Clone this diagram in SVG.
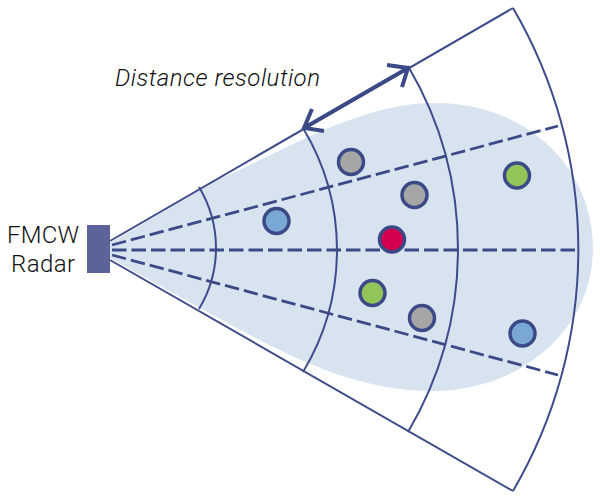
<svg xmlns="http://www.w3.org/2000/svg" width="600" height="500" viewBox="0 0 600 500">
<style>
.sector{fill:none;stroke:#3f4c8c;stroke-width:2}
.beam{fill:none;stroke:#3b4a87;stroke-width:2.8;stroke-dasharray:14.5 5}
.arrow{fill:none;stroke:#3b4a87;stroke-width:4}
.target{stroke:#3b4a87;stroke-width:3.5}
.label{font-family:"Roboto","Liberation Sans",sans-serif;font-weight:300;fill:#111111}
</style>
<rect width="600" height="500" fill="#ffffff"/>
<path id="coverage" fill="#d8e3f0" d="M110 243 L215 181 C290 148 360 103 435 103 C530 103 593 170 593 248 C593 330 520 391 433 391 C350 391 280 352 200 308 L110 258 Z"/>
<g id="connectors">
<path class="sector" d="M110 241 L513 8 M110 260 L513 491"/>
<path class="sector" d="M199 187 A118 118 0 0 1 199 309"/>
<path class="sector" d="M303 128 A236 236 0 0 1 303 372"/>
<path class="sector" d="M408 66 A360 360 0 0 1 408 432"/>
<path class="sector" d="M513 8 A479 479 0 0 1 513 491"/>
<path class="beam" d="M112 245 L558 126"/>
<path class="beam" d="M112 250 L576 250"/>
<path class="beam" d="M112 255 L558 375"/>
<path class="arrow" d="M304 128 L408 68 M387 65 L408 68 L402 87 M312 109 L304 128 L324 131"/>
</g>
<g id="radar">
<rect x="87" y="225" width="23" height="48" fill="#5c6399"/>
<text class="label" x="7" y="243" font-size="24" letter-spacing="0.2">FMCW</text>
<text class="label" x="11" y="272" font-size="24" letter-spacing="0.4">Radar</text>
</g>
<text id="distance-label" class="label" x="115" y="86" font-size="24" font-style="italic" letter-spacing="0.5">Distance resolution</text>
<g id="target-1"><circle class="target" cx="351" cy="162" r="12.5" fill="#a6a6a6"/></g>
<g id="target-2"><circle class="target" cx="414.500" cy="195" r="12.500" fill="#a6a6a6"/></g>
<g id="target-3"><circle class="target" cx="517" cy="175.500" r="12.500" fill="#93c45a"/></g>
<g id="target-4"><circle class="target" cx="276.500" cy="221" r="12.500" fill="#7aa8d4"/></g>
<g id="target-5"><circle class="target" cx="392" cy="239.500" r="12.500" fill="#d4004f"/></g>
<g id="target-6"><circle class="target" cx="372.500" cy="293" r="12.500" fill="#93c45a"/></g>
<g id="target-7"><circle class="target" cx="422" cy="318" r="12.500" fill="#a6a6a6"/></g>
<g id="target-8"><circle class="target" cx="522.500" cy="333.500" r="12.500" fill="#7aa8d4"/></g>
</svg>
